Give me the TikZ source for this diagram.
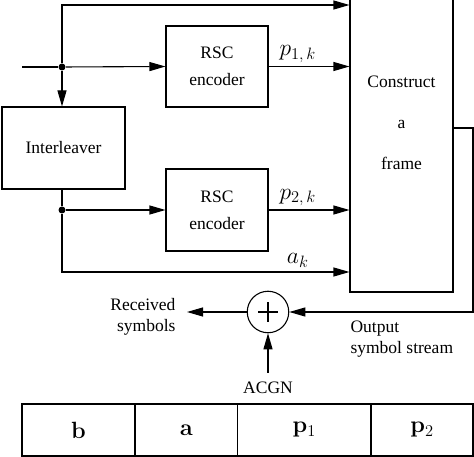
\RequirePackage{fix-cm}
\documentclass[tikz,border=0pt]{standalone}
\usepackage[no-math]{fontspec}
\setmainfont{Liberation Serif}
\usetikzlibrary{arrows.meta,calc}
\begin{document}
\begin{tikzpicture}[x=1pt,y=-1pt,
  line width=1.1pt,
  every node/.style={font=\fontsize{17.5}{21}\selectfont},
  mlab/.style={font=\fontsize{23.5}{28}\selectfont},
  box/.style={draw,rectangle,inner sep=0pt,align=center},
  arr/.style={-{Triangle[length=16pt,width=9pt]}},
  dot/.style={circle,fill,inner sep=0pt,minimum size=7pt},
  cell/.style={draw,rectangle,inner sep=0pt,minimum height=52pt,mlab}]
\useasboundingbox (0,0) rectangle (474,457);
% boxes
\node[box,minimum width=102pt,minimum height=81pt] (rsc1) at (217,66.5) {RSC\\[6pt]encoder};
\node[box,minimum width=123pt,minimum height=82pt] (il) at (63.5,148) {Interleaver};
\node[box,minimum width=102pt,minimum height=82pt] (rsc2) at (217,210) {RSC\\[6pt]encoder};
\node[box,minimum width=103pt,minimum height=338pt] (frame) at (401.5,123) {Construct\\[20pt]a\\[20pt]frame};
\node[draw,circle,minimum size=41.5pt,inner sep=0pt] (add) at (268,312) {};
\draw ([xshift=-10pt]add.center) -- ([xshift=10pt]add.center)
      ([yshift=10pt]add.center) -- ([yshift=-10pt]add.center);
% coordinates
\coordinate (in) at (22,67);
\node[dot] (j1) at (62,67) {};
\coordinate (t) at (62,5);
\node[dot] (j2) at (62,210) {};
\coordinate (b2) at (62,272);
\coordinate (r) at (473,312);
% connectors
\draw (in) -- (j1);
\draw[arr] (j1) -- (rsc1.west);
\draw[arr] (j1) -- (j1 |- il.north);
\draw[arr] (j1) -- (t) -- (t -| frame.west);
\draw[arr] (rsc1.east) -- (rsc1.east -| frame.west) node[mlab,pos=0.36,above=0pt] {$p_{1,\,k}$};
\draw (j2 |- il.south) -- (j2);
\draw[arr] (j2) -- (rsc2.west);
\draw[arr] (rsc2.east) -- (rsc2.east -| frame.west) node[mlab,pos=0.36,above=0pt] {$p_{2,\,k}$};
\draw[arr] (j2) -- (b2) -- (b2 -| frame.west) node[mlab,pos=0.82,above=1pt] {$a_k$};
\draw[arr] ([yshift=-5pt]frame.east) -| (r) -- (add.east);
% labels
\node[align=right,anchor=east,inner xsep=11pt,inner ysep=0pt] (rec) at (187,317) {Received\\symbols};
\draw[arr] (add.west) -- (add.west -| rec.east);
\node[align=left,anchor=west,inner sep=0pt] (out) at (350,339) {Output\\symbol stream};
\node[inner sep=9pt] (acgn) at (268,388) {ACGN};
\draw[arr] (acgn.north) -- (add.south);
% frame table
\node[cell,minimum width=113pt] (cb) at (78.5,430) {$\mathbf{b}$};
\node[cell,minimum width=102.6pt] (ca) at (186.3,430) {$\mathbf{a}$};
\node[cell,minimum width=133.4pt] (cp1) at (304.3,430) {$\mathbf{p}_1$};
\node[cell,minimum width=102pt] (cp2) at (422,430) {$\mathbf{p}_2$};
\end{tikzpicture}
\end{document}
